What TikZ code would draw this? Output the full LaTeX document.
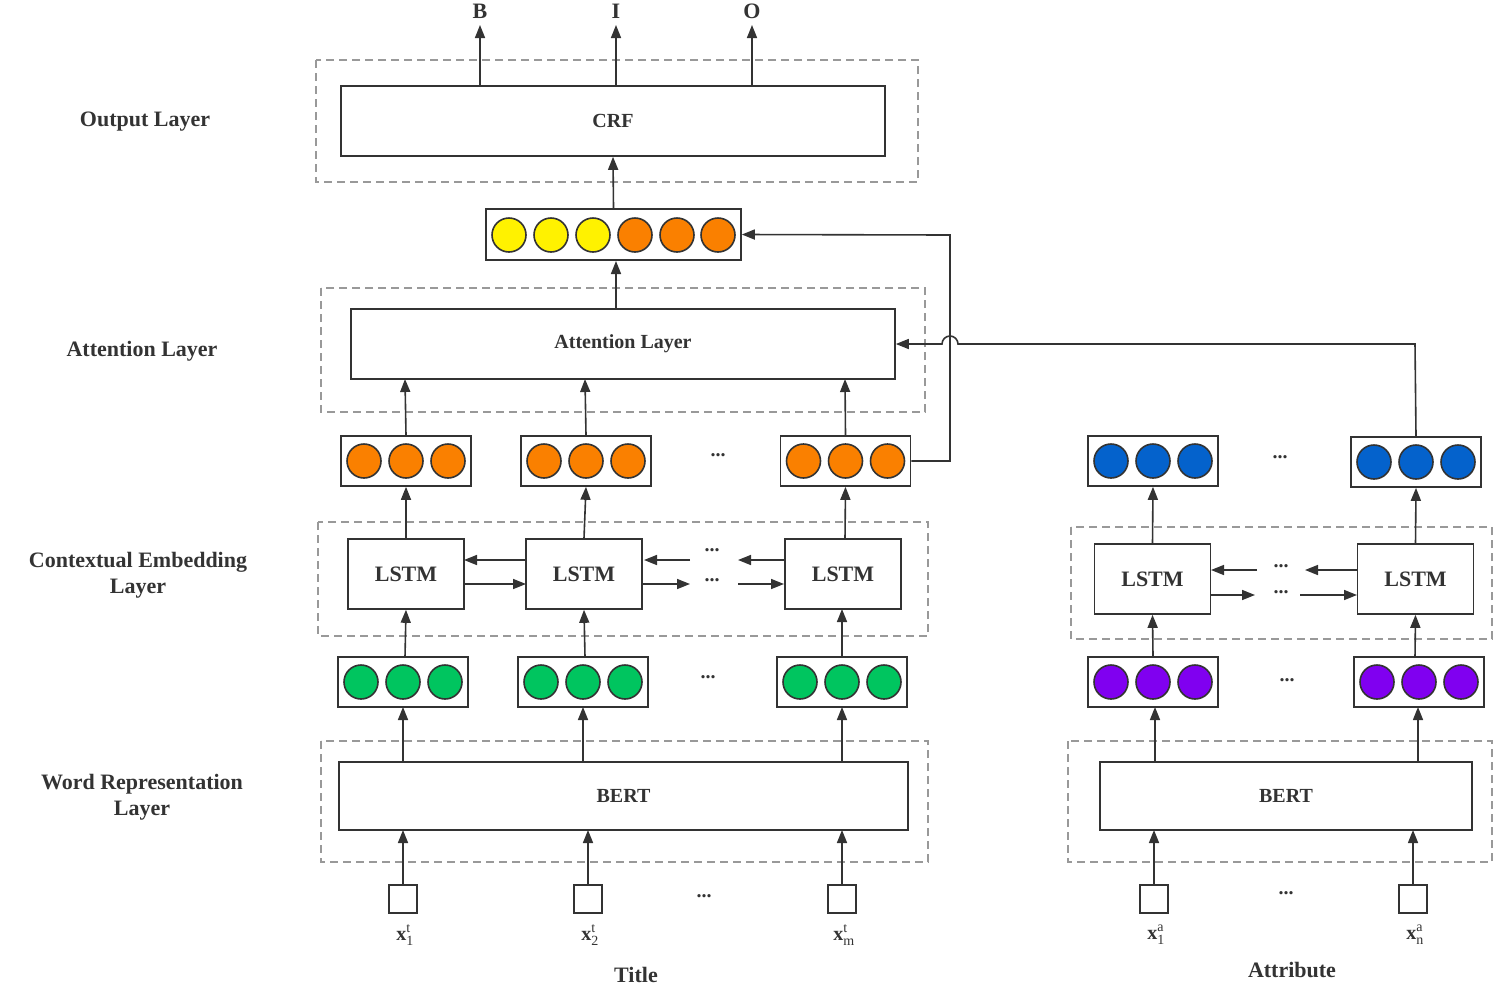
\documentclass[tikz,border=0pt]{standalone}
\usepackage{fontspec}
\setmainfont{Liberation Serif}
\usetikzlibrary{arrows.meta}
\definecolor{ln}{HTML}{333333}
\definecolor{dg}{HTML}{999999}
\definecolor{cy}{HTML}{FFF200}
\definecolor{co}{HTML}{FA8000}
\definecolor{cg}{HTML}{00C55F}
\definecolor{cb}{HTML}{0462CC}
\definecolor{cp}{HTML}{8000F0}
\newcommand{\vrow}[4]{% name, cx, cy, color
  \node[box,minimum width=130pt,minimum height=50pt] (#1) at (#2,#3) {};
  \foreach \dd [count=\k] in {-42,0,42} \node[dot,fill=#4] (#1c\k) at ({#2+\dd},#3) {};}
\begin{document}
\begin{tikzpicture}[x=1pt,y=-1pt,
  every node/.style={font=\bfseries\fontsize{20}{24}\selectfont, text=ln},
  box/.style={draw=ln,line width=1.6pt,fill=white},
  dbox/.style={draw=dg,line width=1.6pt,dash pattern=on 8pt off 5pt},
  arr/.style={draw=ln,line width=1.6pt,-{Triangle[length=13pt,width=10pt]}},
  ln/.style={draw=ln,line width=1.6pt},
  dot/.style={circle,draw=ln,line width=1.6pt,minimum size=34pt,inner sep=0pt},
  lab/.style={font=\bfseries\fontsize{22}{26}\selectfont,align=center},
  inp/.style={draw=ln,line width=1.6pt,minimum size=28pt,inner sep=0pt,fill=white},
  lstm/.style={box,minimum width=116pt,minimum height=70pt,font=\bfseries\fontsize{22}{26}\selectfont}]
\useasboundingbox (0,0) rectangle (1496,986);
% left labels
\node[lab] (l1) at (145,122) {Output Layer};
\node[lab] (l2) at (142,351) {Attention Layer};
\node[lab] (l3) at (138,575) {Contextual Embedding\\Layer};
\node[lab] (l4) at (142,797) {Word Representation\\Layer};
% dashed boxes
\draw[dbox] (316,60) rectangle (918,182);
\draw[dbox] (321,288) rectangle (925,412);
\draw[dbox] (318,522) rectangle (928,636);
\draw[dbox] (321,741) rectangle (928,862);
\draw[dbox] (1071,527) rectangle (1492,639);
\draw[dbox] (1068,741) rectangle (1492,862);
% CRF
\node[box,minimum width=544pt,minimum height=70pt] (crf) at (613,121) {CRF};
\foreach \x/\t in {480/B,616/I,752/O}{
  \coordinate (o\t) at (\x,25);
  \draw[arr] (\x,86) -- (o\t);
  \node[lab] (t\t) at (\x,11) {\t};}
% concat
\node[box,minimum width=255pt,minimum height=51pt] (cat) at (613.5,234.5) {};
\foreach \x/\c [count=\i] in {509/cy,551/cy,593/cy,635/co,677/co,718/co}
  \node[dot,fill=\c] (cc\i) at (\x,235) {};
\draw[arr] (cat.north) -- (crf.south);
% attention
\node[box,minimum width=544pt,minimum height=70pt] (att) at (623,344) {Attention Layer};
\draw[arr] (616,308) -- (616,261);
% vector rows
\vrow{oa}{406}{461}{co}
\vrow{ob}{586}{461}{co}
\vrow{oc}{845.5}{461}{co}
\vrow{ga}{403}{682}{cg}
\vrow{gb}{583}{682}{cg}
\vrow{gc}{842}{682}{cg}
\vrow{ba}{1153}{461}{cb}
\vrow{bb}{1416}{462}{cb}
\vrow{pa}{1153}{682}{cp}
\vrow{pb}{1419}{682}{cp}
\node (d1) at (718,455) {...};
\node (d2) at (708,677) {...};
\node (d3) at (1280,457) {...};
\node (d4) at (1287,680) {...};
% LSTMs
\node[lstm] (la) at (406,574) {LSTM};
\node[lstm] (lb) at (584,574) {LSTM};
\node[lstm] (lc) at (843,574) {LSTM};
\node[lstm] (ra) at (1152.5,579) {LSTM};
\node[lstm] (rb) at (1415.5,579) {LSTM};
% LSTM horizontal arrows
\draw[arr] (526,560) -- (464,560);
\draw[arr] (464,584) -- (526,584);
\coordinate (h1) at (690,560); \coordinate (h2) at (738,560);
\coordinate (h3) at (690,584); \coordinate (h4) at (738,584);
\draw[arr] (h1) -- (644,560);
\node (d5) at (712,550) {...};
\draw[arr] (784,560) -- (h2);
\draw[arr] (642,584) -- (h3);
\node (d6) at (712,580) {...};
\draw[arr] (h4) -- (784,584);
\draw[arr] (1257,570) -- (1211,570);
\node (d7) at (1281,566) {...};
\draw[arr] (1357,570) -- (1305,570);
\draw[arr] (1211,595) -- (1255,595);
\node (d8) at (1281,592) {...};
\draw[arr] (1300,595) -- (1357,595);
% vertical arrows
\draw[arr] (la.north) -- (oa.south);
\draw[arr] (lb.north) -- (ob.south);
\draw[arr] (845,539) -- (oc.south);
\draw[arr] (oa.north) -- (405,379);
\draw[arr] (ob.north) -- (585,379);
\draw[arr] (oc.north) -- (845,379);
\draw[arr] (405,657) -- (la.south);
\draw[arr] (585,657) -- (lb.south);
\draw[arr] (842,657) -- (842,609);
\draw[arr] (ra.north) -- (ba.south);
\draw[arr] (rb.north) -- (bb.south);
\draw[arr] (pa.north) -- (ra.south);
\draw[arr] (1415,657) -- (rb.south);
% BERT
\node[box,minimum width=569pt,minimum height=68pt] (bt) at (623.5,796) {BERT};
\node[box,minimum width=372pt,minimum height=68pt] (ba2) at (1286,796) {BERT};
\draw[arr] (403,762) -- (403,707);
\draw[arr] (583,762) -- (583,707);
\draw[arr] (842,762) -- (842,707);
\draw[arr] (1155,762) -- (1155,707);
\draw[arr] (1418,762) -- (1418,707);
% inputs
\foreach \n/\x/\s/\u in {ia/403/t/1,ib/588/t/2,ic/842/t/m,id/1154/a/1,ie/1413/a/n}{
  \node[inp] (\n) at (\x,899) {};
  \draw[arr] (\n.north) -- (\x,830);
  \node (\n l) at (\x+2,935) {$\mathbf{x}^{\mathrm{\s}}_{\mathrm{\u}}$};}
\node (d9) at (704,896) {...};
\node (d10) at (1286,893) {...};
\node[lab] (tt) at (636,975) {Title};
\node[lab] (ta) at (1292,970) {Attribute};
% long connectors
\draw[arr] (oc.east) -- (950,461) -- (950,235) -- (cat.east);
\draw[arr] (bb.north) -- (1415,344) -- (958,344) arc[start angle=0,end angle=180,radius=8pt] -- (att.east);
\end{tikzpicture}
\end{document}
